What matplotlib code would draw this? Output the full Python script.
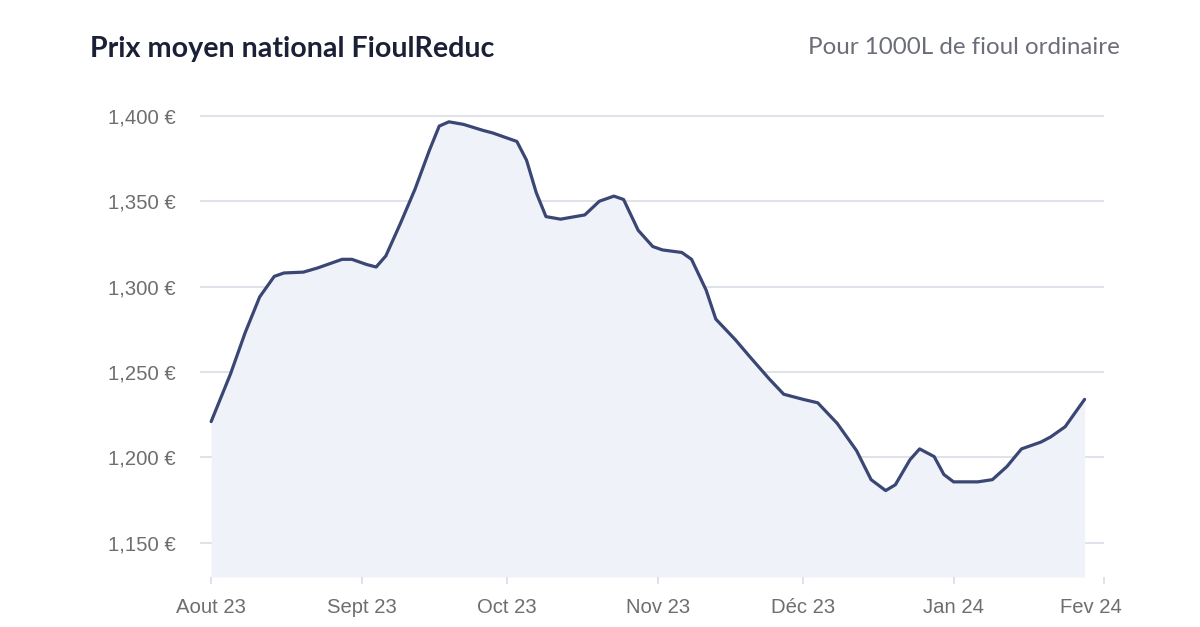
import matplotlib
matplotlib.use("Agg")
import matplotlib.pyplot as plt
import matplotlib.transforms as mtransforms
import pandas as pd

# ---- data ----
start_date = "2023-08-01"
day_offsets = [0, 4, 7, 10, 13, 15, 19, 22, 27, 29, 32, 34, 36, 39, 42, 45, 47, 49,
               52, 56, 58, 63, 65, 67, 69, 72, 77, 80, 83, 85, 88, 91, 93, 97, 99,
               102, 104, 108, 111, 115, 118, 122, 125, 129, 133, 136, 139, 141, 144,
               146, 149, 151, 153, 158, 161, 164, 167, 171, 173, 176, 180]
prices = [1221, 1249, 1273, 1294, 1306, 1308, 1308.5, 1311, 1316, 1316, 1313, 1311.5,
          1318, 1337, 1357, 1380, 1394, 1396.5, 1395, 1391.5, 1390, 1385, 1374, 1355,
          1341, 1339.5, 1342, 1350, 1353, 1351, 1333, 1323.5, 1321.5, 1320, 1316,
          1298, 1281, 1269, 1259, 1246, 1237, 1234, 1232, 1220, 1204, 1187, 1180.6,
          1184, 1198.6, 1205, 1200.5, 1190, 1185.7, 1185.7, 1187, 1194.7, 1205, 1209,
          1212, 1218, 1234]

month_ticks = ["2023-08-01", "2023-09-01", "2023-10-01", "2023-11-01",
               "2023-12-01", "2024-01-01", "2024-02-01"]
month_labels = ["Aout 23", "Sept 23", "Oct 23", "Nov 23", "Déc 23", "Jan 24", "Fev 24"]
y_ticks = [1150, 1200, 1250, 1300, 1350, 1400]

title_text = "Prix moyen national FioulReduc"
subtitle_text = "Pour 1000L de fioul ordinaire"

# ---- build ----
dates = pd.Timestamp(start_date) + pd.to_timedelta(day_offsets, unit="D")
tick_dates = pd.to_datetime(month_ticks)

LINE = "#3a4673"
FILL = "#eff2f9"
GRID = "#dcdfe6"
TICKTXT = "#6e6e6e"

fig = plt.figure(figsize=(12, 6.27), dpi=100)
fig.patch.set_facecolor("white")
ax = fig.add_axes([200 / 1200, 50 / 627, 904 / 1200, 469.7 / 627])

ymin, ymax = 1130, 1405
ax.fill_between(dates, prices, ymin, color=FILL, linewidth=0, zorder=1)
ax.plot(dates, prices, color=LINE, linewidth=2.3, solid_joinstyle="round",
        solid_capstyle="round", zorder=3)

ax.set_ylim(ymin, ymax)
ax.set_xlim(pd.Timestamp(start_date) - pd.Timedelta(days=2.3), tick_dates[-1])

ax.set_yticks(y_ticks)
ax.set_yticklabels([f"{v:,} €" for v in y_ticks])
ax.set_xticks(tick_dates)
ax.set_xticklabels(month_labels)

for v in y_ticks:
    ax.axhline(v, color=GRID, linewidth=1.3, zorder=0.5, solid_capstyle="round")

for s in ax.spines.values():
    s.set_visible(False)

ax.tick_params(axis="y", length=0, pad=17.5, labelsize=14.6, labelcolor=TICKTXT,
               labelfontfamily="Liberation Sans")
ax.tick_params(axis="x", length=5, width=1.3, color=GRID, pad=10, labelsize=14.6,
               labelcolor=TICKTXT, labelfontfamily="Liberation Sans")

# last month label sits slightly left of its tick in the reference
last_lbl = ax.get_xticklabels()[-1]
last_lbl.set_transform(last_lbl.get_transform() +
                       mtransforms.ScaledTranslation(-13 / 100, 0, fig.dpi_scale_trans))

fig.text(90 / 1200, 1 - 49 / 627, title_text, ha="left", va="center",
         fontsize=20.6, fontweight="bold", color="#1b2036", family="Lato")
fig.text(1120 / 1200, 1 - 48 / 627, subtitle_text, ha="right", va="center",
         fontsize=17.4, color="#6b6e78", family="Lato")

fig.savefig("out.png", dpi=100, facecolor="white")
